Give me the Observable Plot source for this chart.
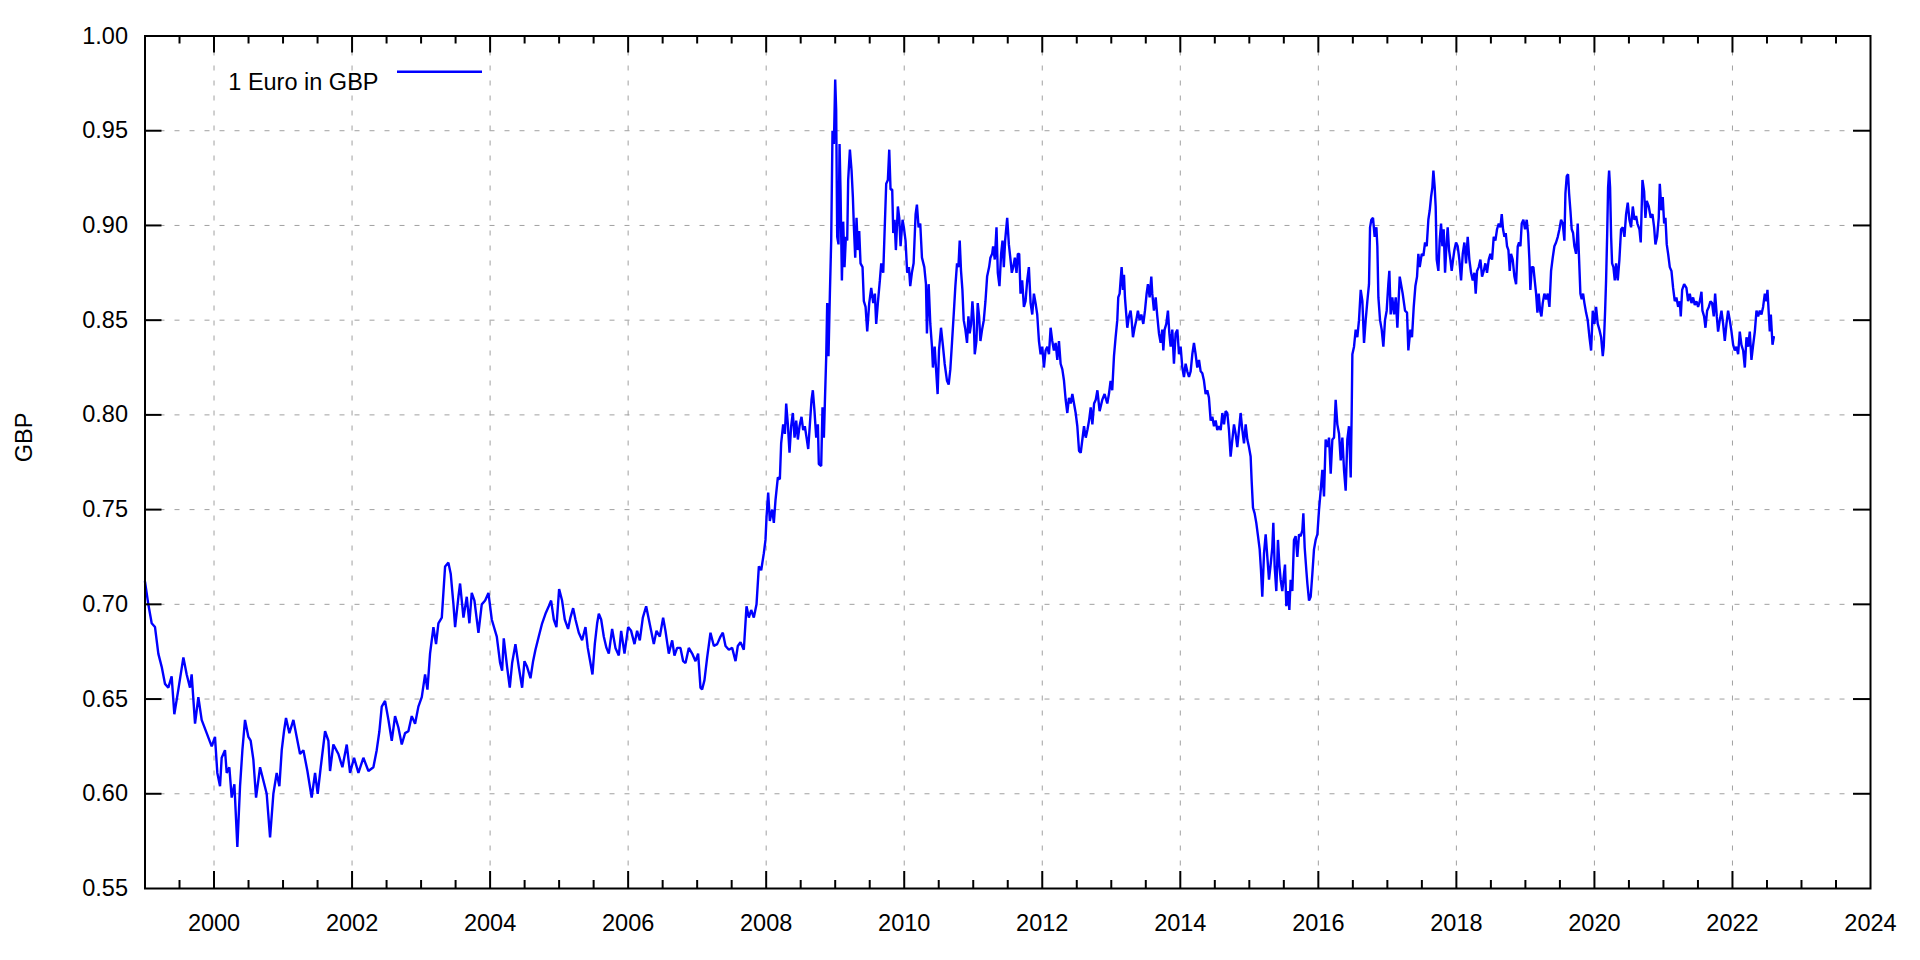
<!DOCTYPE html>
<html>
<head>
<meta charset="utf-8">
<script src="https://cdn.jsdelivr.net/npm/d3@7"></script>
<script src="https://cdn.jsdelivr.net/npm/@observablehq/plot@0.6"></script>
<style>
html, body { margin: 0; padding: 0; background: #fff; }
#chart { width: 1920px; height: 960px; }
</style>
</head>
<body>
<div id="chart"></div>
<script>
// ---- Data: 1 Euro in GBP, [decimal year, rate] ----
const rates1999 = [
  [1999.000,0.712],[1999.048,0.700],[1999.097,0.690],[1999.145,0.688],[1999.193,0.674],[1999.242,0.667],[1999.290,0.658],[1999.338,0.656],
  [1999.386,0.662],[1999.425,0.642],[1999.483,0.655],[1999.556,0.672],[1999.604,0.663],[1999.652,0.656],[1999.676,0.663],[1999.725,0.637],
  [1999.773,0.651],[1999.821,0.639],[1999.894,0.632],[1999.966,0.625],[2000.014,0.630],[2000.048,0.611],[2000.087,0.604],[2000.111,0.619],
  [2000.159,0.623],[2000.184,0.611],[2000.222,0.614],[2000.256,0.598],[2000.295,0.605],[2000.338,0.572],[2000.377,0.604],[2000.411,0.623],
  [2000.449,0.639],[2000.498,0.630],[2000.531,0.628],[2000.570,0.618],[2000.609,0.598],[2000.667,0.614],[2000.715,0.607],[2000.763,0.600],
  [2000.812,0.577],[2000.860,0.600],[2000.908,0.611],[2000.947,0.604],[2000.981,0.623],[2001.014,0.633],[2001.043,0.640],[2001.092,0.632],
  [2001.150,0.639],[2001.198,0.630],[2001.246,0.621],[2001.295,0.623],[2001.353,0.612],[2001.415,0.598],[2001.464,0.611],[2001.502,0.600],
  [2001.546,0.614],[2001.609,0.633],[2001.657,0.628],[2001.681,0.612],[2001.729,0.626],[2001.802,0.621],[2001.860,0.614],[2001.923,0.626],
  [2001.971,0.611],[2002.029,0.619],[2002.092,0.611],[2002.164,0.619],[2002.237,0.612],[2002.309,0.614],[2002.357,0.623],[2002.396,0.633],
  [2002.430,0.646],[2002.478,0.649],[2002.527,0.639],[2002.575,0.628],[2002.623,0.641],[2002.671,0.635],[2002.720,0.626],[2002.768,0.632],
  [2002.816,0.633],[2002.865,0.641],[2002.913,0.637],[2002.961,0.646],[2003.010,0.651],[2003.058,0.663],[2003.092,0.655],[2003.130,0.674],
  [2003.179,0.688],[2003.217,0.679],[2003.251,0.690],[2003.300,0.693],[2003.348,0.720],[2003.396,0.722],[2003.430,0.716],[2003.469,0.700],
  [2003.493,0.688],[2003.541,0.704],[2003.565,0.711],[2003.614,0.693],[2003.662,0.704],[2003.700,0.690],[2003.734,0.706],[2003.773,0.702],
  [2003.831,0.685],[2003.879,0.700],[2003.928,0.702],[2003.976,0.706],[2004.024,0.692],[2004.097,0.683],[2004.145,0.669]
];
const rates2004 = [
  [2004.174,0.665],[2004.198,0.682],[2004.246,0.667],[2004.285,0.656],[2004.319,0.669],[2004.367,0.679],[2004.415,0.667],[2004.464,0.656],
  [2004.498,0.670],[2004.536,0.667],[2004.585,0.661],[2004.623,0.670],[2004.657,0.676],[2004.705,0.683],[2004.754,0.690],[2004.802,0.695],
  [2004.850,0.699],[2004.884,0.702],[2004.923,0.692],[2004.961,0.688],[2005.000,0.708],[2005.043,0.702],[2005.082,0.692],[2005.130,0.687],
  [2005.164,0.693],[2005.203,0.698],[2005.237,0.692],[2005.285,0.685],[2005.333,0.681],[2005.382,0.688],[2005.415,0.677],[2005.454,0.669],
  [2005.483,0.663],[2005.517,0.679],[2005.551,0.690],[2005.575,0.695],[2005.609,0.692],[2005.647,0.683],[2005.686,0.677],[2005.720,0.674],
  [2005.768,0.687],[2005.816,0.677],[2005.865,0.673],[2005.899,0.686],[2005.947,0.674],[2006.000,0.688],[2006.043,0.686],[2006.092,0.679],
  [2006.130,0.686],[2006.169,0.681],[2006.213,0.693],[2006.261,0.699],[2006.300,0.692],[2006.333,0.686],[2006.372,0.679],[2006.411,0.686],
  [2006.459,0.683],[2006.507,0.693],[2006.541,0.686],[2006.589,0.674],[2006.638,0.681],[2006.671,0.673],[2006.710,0.677],[2006.758,0.677],
  [2006.797,0.670],[2006.831,0.669],[2006.879,0.677],[2006.928,0.674],[2006.976,0.670],[2007.014,0.674],[2007.048,0.656],[2007.072,0.655],
  [2007.106,0.660],[2007.145,0.672],[2007.193,0.685],[2007.242,0.678],[2007.290,0.679],[2007.338,0.683],[2007.372,0.685],[2007.411,0.678],
  [2007.459,0.676],[2007.507,0.677],[2007.556,0.670],[2007.589,0.678],[2007.628,0.680],[2007.676,0.676],[2007.715,0.699],[2007.749,0.693],
  [2007.783,0.697],[2007.821,0.693],[2007.860,0.700],[2007.894,0.720],[2007.928,0.718],[2007.966,0.727]
];
const rates2008 = [
  [2007.990,0.734],[2008.005,0.746],[2008.029,0.759],[2008.053,0.744],[2008.087,0.750],[2008.111,0.743],[2008.135,0.755],[2008.169,0.767],
  [2008.198,0.766],[2008.217,0.785],[2008.246,0.795],[2008.271,0.790],[2008.290,0.806],[2008.314,0.795],[2008.338,0.780],[2008.362,0.794],
  [2008.386,0.801],[2008.411,0.788],[2008.435,0.797],[2008.459,0.787],[2008.483,0.794],[2008.512,0.799],[2008.536,0.792],[2008.560,0.794],
  [2008.585,0.788],[2008.609,0.782],[2008.633,0.795],[2008.657,0.808],[2008.676,0.813],[2008.700,0.802],[2008.725,0.788],[2008.749,0.795],
  [2008.763,0.774],[2008.797,0.773],[2008.816,0.804],[2008.836,0.788],[2008.850,0.806],[2008.870,0.831],[2008.884,0.859],[2008.903,0.831],
  [2008.923,0.864],[2008.942,0.892],[2008.961,0.950],[2008.981,0.943],[2009.000,0.977],[2009.014,0.961],[2009.029,0.894],[2009.048,0.890],
  [2009.063,0.943],[2009.077,0.919],[2009.097,0.871],[2009.116,0.902],[2009.135,0.878],[2009.155,0.894],[2009.174,0.892],[2009.188,0.924],
  [2009.213,0.940],[2009.237,0.929],[2009.256,0.915],[2009.271,0.899],[2009.290,0.883],[2009.309,0.904],[2009.329,0.887],[2009.348,0.897],
  [2009.367,0.880],[2009.396,0.878],[2009.415,0.860],[2009.440,0.857],[2009.464,0.844],[2009.493,0.859],[2009.522,0.867],[2009.551,0.859],
  [2009.575,0.864],[2009.594,0.848],[2009.618,0.859],[2009.647,0.871],[2009.667,0.880],[2009.696,0.875],[2009.715,0.896],[2009.739,0.922],
  [2009.763,0.924],[2009.783,0.940],[2009.802,0.919],[2009.826,0.919],[2009.841,0.896],[2009.860,0.903],[2009.879,0.887],[2009.908,0.910],
  [2009.928,0.904],[2009.947,0.889],[2009.976,0.903],[2009.995,0.899],[2010.019,0.892],[2010.043,0.875]
];
const rates2010 = [
  [2010.068,0.878],[2010.087,0.868],[2010.111,0.875],[2010.136,0.880],[2010.165,0.906],[2010.184,0.911],[2010.208,0.899],[2010.232,0.901],
  [2010.257,0.883],[2010.291,0.878],[2010.315,0.869],[2010.329,0.843],[2010.354,0.869],[2010.378,0.848],[2010.402,0.836],[2010.416,0.825],
  [2010.441,0.836],[2010.465,0.822],[2010.484,0.811],[2010.504,0.834],[2010.533,0.846],[2010.562,0.836],[2010.586,0.827],[2010.620,0.818],
  [2010.644,0.816],[2010.668,0.824],[2010.692,0.838],[2010.717,0.853],[2010.741,0.868],[2010.765,0.880],[2010.785,0.878],[2010.804,0.892],
  [2010.823,0.876],[2010.843,0.866],[2010.862,0.850],[2010.886,0.845],[2010.910,0.838],[2010.930,0.852],[2010.949,0.843],[2010.969,0.848],
  [2010.988,0.860],[2011.007,0.850],[2011.022,0.832],[2011.046,0.839],[2011.065,0.859],[2011.085,0.852],[2011.104,0.839],[2011.128,0.845],
  [2011.153,0.850],[2011.177,0.860],[2011.201,0.873],[2011.230,0.878],[2011.249,0.883],[2011.274,0.885],[2011.288,0.889],[2011.312,0.882],
  [2011.337,0.899],[2011.356,0.875],[2011.380,0.868],[2011.404,0.885],[2011.424,0.892],[2011.443,0.878],[2011.462,0.892],[2011.492,0.904],
  [2011.516,0.890],[2011.540,0.882],[2011.559,0.875],[2011.579,0.878],[2011.603,0.883],[2011.627,0.875],[2011.646,0.885],[2011.666,0.885],
  [2011.685,0.864],[2011.709,0.871],[2011.734,0.857],[2011.758,0.860],[2011.782,0.871],[2011.806,0.878],[2011.831,0.859],[2011.855,0.853],
  [2011.879,0.864],[2011.903,0.859],[2011.927,0.853],[2011.952,0.839],[2011.976,0.832],[2012.000,0.836],[2012.024,0.825],[2012.048,0.834],
  [2012.073,0.836],[2012.097,0.832],[2012.121,0.846],[2012.145,0.839],[2012.169,0.834],[2012.194,0.838],[2012.218,0.829],[2012.242,0.839],
  [2012.266,0.827],[2012.291,0.824],[2012.315,0.818],[2012.339,0.808],[2012.363,0.801],[2012.387,0.809],[2012.412,0.806],[2012.436,0.811],
  [2012.460,0.806],[2012.484,0.801],[2012.508,0.794],[2012.533,0.781],[2012.557,0.780],[2012.581,0.787],[2012.605,0.794],[2012.630,0.788],
  [2012.654,0.792],[2012.678,0.797],[2012.702,0.804],[2012.726,0.795],[2012.751,0.806],[2012.775,0.808],[2012.799,0.813]
];
const rates2013 = [
  [2012.831,0.802],[2012.870,0.808],[2012.903,0.811],[2012.942,0.806],[2012.966,0.811],[2012.990,0.818],[2013.014,0.813],[2013.039,0.831],
  [2013.063,0.841],[2013.087,0.850],[2013.101,0.862],[2013.121,0.864],[2013.135,0.871],[2013.150,0.878],[2013.169,0.866],[2013.184,0.874],
  [2013.198,0.862],[2013.217,0.853],[2013.232,0.846],[2013.256,0.852],[2013.280,0.855],[2013.295,0.850],[2013.314,0.841],[2013.338,0.846],
  [2013.362,0.850],[2013.386,0.855],[2013.411,0.850],[2013.435,0.853],[2013.464,0.848],[2013.488,0.855],[2013.512,0.864],[2013.531,0.869],
  [2013.556,0.862],[2013.580,0.873],[2013.594,0.864],[2013.618,0.855],[2013.643,0.862],[2013.667,0.852],[2013.691,0.843],[2013.715,0.838],
  [2013.739,0.845],[2013.754,0.834],[2013.773,0.845],[2013.797,0.848],[2013.821,0.855],[2013.841,0.843],[2013.860,0.836],[2013.884,0.845],
  [2013.908,0.827],[2013.932,0.843],[2013.957,0.845],[2013.981,0.832],[2014.005,0.836],[2014.029,0.825],[2014.053,0.820],[2014.077,0.827],
  [2014.101,0.823],[2014.126,0.820],[2014.150,0.823],[2014.174,0.832],[2014.198,0.838],[2014.222,0.832],[2014.246,0.825],[2014.271,0.829],
  [2014.295,0.823],[2014.319,0.822],[2014.343,0.818],[2014.367,0.811],[2014.391,0.813],[2014.415,0.809],[2014.440,0.797],[2014.464,0.799],
  [2014.488,0.794],[2014.512,0.797],[2014.536,0.792],[2014.560,0.794],[2014.585,0.792],[2014.609,0.801],[2014.633,0.795],[2014.657,0.802],
  [2014.681,0.801],[2014.705,0.792],[2014.729,0.778],[2014.754,0.787],[2014.778,0.795],[2014.802,0.790],[2014.826,0.783],[2014.850,0.792],
  [2014.874,0.801],[2014.899,0.792],[2014.923,0.785],[2014.947,0.795],[2014.971,0.787],[2014.995,0.783],[2015.019,0.778],[2015.034,0.765],
  [2015.053,0.751],[2015.077,0.748],[2015.101,0.743],[2015.126,0.736],[2015.150,0.729],[2015.169,0.718],[2015.188,0.704],[2015.213,0.727],
  [2015.237,0.737],[2015.261,0.725],[2015.285,0.713],[2015.309,0.721],[2015.333,0.730],[2015.348,0.743],[2015.367,0.720],[2015.391,0.707],
  [2015.415,0.734],[2015.435,0.721],[2015.454,0.713],[2015.478,0.707],[2015.502,0.716],[2015.517,0.721],[2015.536,0.699],[2015.560,0.707],
  [2015.580,0.697],[2015.599,0.713],[2015.623,0.707],[2015.647,0.734],[2015.671,0.736],[2015.696,0.725],[2015.720,0.737],[2015.744,0.736],
  [2015.768,0.739],[2015.783,0.748],[2015.802,0.730],[2015.826,0.718],[2015.841,0.711],[2015.865,0.702],[2015.889,0.704],[2015.913,0.716],
  [2015.937,0.729],[2015.961,0.734],[2015.986,0.737],[2016.010,0.750],[2016.034,0.760],[2016.058,0.771],[2016.082,0.757],[2016.106,0.787],
  [2016.130,0.783],[2016.155,0.788],[2016.179,0.769],[2016.203,0.787],[2016.227,0.788],[2016.251,0.808],[2016.275,0.795],[2016.300,0.790],
  [2016.324,0.776],[2016.348,0.788],[2016.372,0.771],[2016.396,0.760],[2016.420,0.787],[2016.444,0.794],[2016.469,0.767],[2016.483,0.801],
  [2016.493,0.832],[2016.517,0.836],[2016.541,0.845],[2016.565,0.841],[2016.589,0.850],[2016.614,0.866],[2016.638,0.860],[2016.662,0.838],
  [2016.686,0.850],[2016.710,0.860],[2016.734,0.869],[2016.749,0.899],[2016.768,0.903],[2016.792,0.904],[2016.816,0.894],[2016.841,0.899],
  [2016.855,0.889],[2016.870,0.862],[2016.894,0.850],[2016.918,0.845],[2016.942,0.836],[2016.966,0.850],[2016.990,0.855],[2017.014,0.869],
  [2017.029,0.876],[2017.048,0.853],[2017.072,0.862],[2017.097,0.853],[2017.121,0.862],[2017.145,0.846],[2017.179,0.873]
];
const rates2017 = [
  [2017.222,0.864],[2017.256,0.855],[2017.285,0.854],[2017.304,0.834],[2017.333,0.845],[2017.357,0.841],[2017.382,0.857],[2017.406,0.868],
  [2017.430,0.873],[2017.449,0.885],[2017.469,0.878],[2017.498,0.885],[2017.522,0.884],[2017.546,0.891],[2017.570,0.889],[2017.594,0.903],
  [2017.614,0.908],[2017.633,0.915],[2017.652,0.920],[2017.667,0.929],[2017.686,0.920],[2017.700,0.910],[2017.715,0.882],[2017.739,0.876],
  [2017.758,0.892],[2017.778,0.901],[2017.797,0.889],[2017.816,0.898],[2017.836,0.875],[2017.855,0.889],[2017.874,0.899],[2017.894,0.887],
  [2017.913,0.882],[2017.932,0.876],[2017.952,0.882],[2017.971,0.887],[2017.995,0.891],[2018.019,0.889],[2018.043,0.882],[2018.068,0.871],
  [2018.092,0.885],[2018.116,0.891],[2018.140,0.880],[2018.164,0.894],[2018.188,0.882],[2018.213,0.875],[2018.237,0.871],[2018.261,0.875],
  [2018.280,0.864],[2018.300,0.876],[2018.324,0.878],[2018.348,0.882],[2018.372,0.873],[2018.396,0.876],[2018.420,0.880],[2018.444,0.875],
  [2018.469,0.882],[2018.493,0.885],[2018.517,0.882],[2018.541,0.894],[2018.565,0.892],[2018.589,0.898],[2018.614,0.901],[2018.638,0.899],
  [2018.657,0.906],[2018.676,0.898],[2018.696,0.894],[2018.715,0.896],[2018.734,0.889],[2018.754,0.887],[2018.773,0.876],[2018.792,0.885],
  [2018.816,0.882],[2018.841,0.873],[2018.865,0.869],[2018.889,0.889],[2018.908,0.891],[2018.928,0.889],[2018.947,0.901],[2018.971,0.903],
  [2018.995,0.898],[2019.019,0.903],[2019.039,0.896],[2019.058,0.882],[2019.072,0.866],[2019.092,0.878],[2019.116,0.878],[2019.135,0.871],
  [2019.155,0.864],[2019.174,0.854],[2019.193,0.864],[2019.213,0.855],[2019.232,0.852],[2019.251,0.859],[2019.275,0.864],[2019.300,0.861],
  [2019.324,0.864],[2019.348,0.857],[2019.372,0.876],[2019.396,0.883],[2019.420,0.889],[2019.444,0.891],[2019.469,0.894],[2019.493,0.898],
  [2019.517,0.903],[2019.541,0.901],[2019.565,0.892],[2019.580,0.917],[2019.599,0.926],[2019.618,0.927],[2019.633,0.917],[2019.652,0.908],
  [2019.671,0.898],[2019.691,0.896],[2019.710,0.889],[2019.734,0.885],[2019.749,0.894],[2019.758,0.901],[2019.778,0.882],[2019.797,0.864],
  [2019.816,0.861],[2019.836,0.864],[2019.855,0.859],[2019.879,0.854],[2019.903,0.850],[2019.928,0.841],[2019.952,0.834],[2019.976,0.855],
  [2020.000,0.848],[2020.024,0.857],[2020.048,0.848],[2020.072,0.845],[2020.097,0.841],[2020.121,0.831],[2020.135,0.836],[2020.155,0.855],
  [2020.169,0.871],[2020.184,0.894],[2020.198,0.920],[2020.213,0.929],[2020.227,0.920],[2020.242,0.894],[2020.256,0.880],[2020.275,0.878],
  [2020.295,0.871],[2020.314,0.880],[2020.338,0.871],[2020.362,0.882],[2020.386,0.898],[2020.411,0.899],[2020.435,0.894],[2020.459,0.906],
  [2020.483,0.912],[2020.507,0.903],[2020.531,0.899],[2020.556,0.910],[2020.580,0.903],[2020.604,0.905],[2020.623,0.901],[2020.652,0.898],
  [2020.671,0.891]
];
const rates2020 = [
  [2020.696,0.924],[2020.720,0.918],[2020.739,0.904],[2020.758,0.913],[2020.787,0.910],[2020.816,0.904],[2020.841,0.906],[2020.865,0.899],
  [2020.884,0.890],[2020.908,0.894],[2020.932,0.904],[2020.947,0.922],[2020.971,0.908],[2020.990,0.915],[2021.010,0.901],[2021.029,0.904],
  [2021.048,0.890],[2021.068,0.885],[2021.092,0.878],[2021.116,0.876],[2021.140,0.867],[2021.164,0.860],[2021.188,0.862],[2021.213,0.857],
  [2021.237,0.860],[2021.251,0.852],[2021.271,0.866],[2021.300,0.869],[2021.333,0.867],[2021.357,0.860],[2021.382,0.864],[2021.406,0.859],
  [2021.430,0.862],[2021.454,0.858],[2021.478,0.860],[2021.502,0.857],[2021.527,0.860],[2021.551,0.865],[2021.565,0.855],[2021.589,0.852],
  [2021.609,0.846],[2021.633,0.855],[2021.657,0.857],[2021.681,0.860],[2021.705,0.859],[2021.729,0.852],[2021.749,0.864],[2021.773,0.852],
  [2021.792,0.844],[2021.816,0.850],[2021.841,0.855],[2021.865,0.848],[2021.889,0.839],[2021.913,0.848],[2021.937,0.855],[2021.961,0.850],
  [2021.986,0.844],[2022.010,0.837],[2022.034,0.834],[2022.058,0.836],[2022.082,0.832],[2022.106,0.844],[2022.130,0.837],[2022.155,0.834],
  [2022.179,0.825],[2022.203,0.841],[2022.227,0.836],[2022.251,0.844],[2022.275,0.829],[2022.300,0.837],[2022.324,0.844],[2022.348,0.855],
  [2022.372,0.852],[2022.396,0.855],[2022.420,0.853],[2022.444,0.857],[2022.469,0.864],[2022.493,0.860],[2022.507,0.866],[2022.527,0.853],
  [2022.541,0.844],[2022.556,0.853],[2022.580,0.837],[2022.599,0.841]
];

// ---- Axis ticks ----
const labelYears = [2000, 2002, 2004, 2006, 2008, 2010, 2012, 2014, 2016, 2018, 2020, 2022, 2024];
const majorYears = [2000, 2002, 2004, 2006, 2008, 2010, 2012, 2014, 2016, 2018, 2020, 2022];
const minorYears = [1999.5, 2000.5, 2001, 2001.5, 2002.5, 2003, 2003.5, 2004.5, 2005, 2005.5, 2006.5, 2007, 2007.5,
  2008.5, 2009, 2009.5, 2010.5, 2011, 2011.5, 2012.5, 2013, 2013.5, 2014.5, 2015, 2015.5, 2016.5, 2017, 2017.5,
  2018.5, 2019, 2019.5, 2020.5, 2021, 2021.5, 2022.5, 2023, 2023.5];
const yLabels = [0.55, 0.60, 0.65, 0.70, 0.75, 0.80, 0.85, 0.90, 0.95, 1.00];
const yInner = [0.60, 0.65, 0.70, 0.75, 0.80, 0.85, 0.90, 0.95];
const seriesName = "1 Euro in GBP";
const yTitle = "GBP";

const data = [...rates1999, ...rates2004, ...rates2008, ...rates2010, ...rates2013, ...rates2017, ...rates2020]
  .map(([year, rate]) => ({year, rate}));

// ---- Layout ----
const W = 1920, H = 960;
const mL = 144.5, mR = 50, mT = 35.5, mB = 72;
const fw = W - mL - mR, fh = H - mT - mB;
const majorLen = 17, minorLen = 8;
const font = '"Liberation Sans", Arial, Helvetica, sans-serif';
const gridStyle = {stroke: "#a0a0a0", strokeWidth: 1, strokeDasharray: "5,10"};
const tickStyle = {stroke: "black", strokeWidth: 2};

const chart = Plot.plot({
  width: W, height: H,
  marginLeft: mL, marginRight: mR, marginTop: mT, marginBottom: mB,
  style: {fontFamily: font, fontSize: "23.5px", color: "black", background: "white", overflow: "visible"},
  x: {type: "linear", domain: [1999, 2024], ticks: labelYears, tickSize: 0, tickPadding: 26, tickFormat: d => String(d), label: null},
  y: {type: "linear", domain: [0.55, 1.0], ticks: yLabels, tickSize: 0, tickPadding: 17, tickFormat: d => d.toFixed(2), label: null},
  marks: [
    Plot.ruleX(majorYears, {x: d => d, ...gridStyle}),
    Plot.ruleY(yInner, {y: d => d, ...gridStyle}),
    Plot.line(data, {x: "year", y: "rate", stroke: "#0000ff", strokeWidth: 2.4, strokeLinejoin: "miter"}),
    Plot.tickX(majorYears, {x: d => d, insetTop: fh - majorLen, ...tickStyle}),
    Plot.tickX(majorYears, {x: d => d, insetBottom: fh - majorLen, ...tickStyle}),
    Plot.tickX(minorYears, {x: d => d, insetTop: fh - minorLen, ...tickStyle}),
    Plot.tickX(minorYears, {x: d => d, insetBottom: fh - minorLen, ...tickStyle}),
    Plot.tickY(yInner, {y: d => d, insetRight: fw - majorLen, ...tickStyle}),
    Plot.tickY(yInner, {y: d => d, insetLeft: fw - majorLen, ...tickStyle}),
    Plot.frame({stroke: "black", strokeWidth: 2}),
    Plot.text([yTitle], {text: d => d, frameAnchor: "left", dx: -(mL - 24), rotate: -90, fontSize: 23.5, fill: "black"}),
    Plot.text([seriesName], {text: d => d, frameAnchor: "top-left", dx: 378 - mL, dy: 72.9 - mT, textAnchor: "end", fontSize: 23.5, fill: "black"})
  ]
});

// legend swatch (line sample next to the key text)
const svg = chart.tagName && chart.tagName.toLowerCase() === "svg" ? chart : chart.querySelector("svg");
d3.select(svg).append("line")
  .attr("x1", 397).attr("x2", 482).attr("y1", 71.7).attr("y2", 71.7)
  .attr("stroke", "#0000ff").attr("stroke-width", 2.4);

document.getElementById("chart").appendChild(chart);
</script>
</body>
</html>
